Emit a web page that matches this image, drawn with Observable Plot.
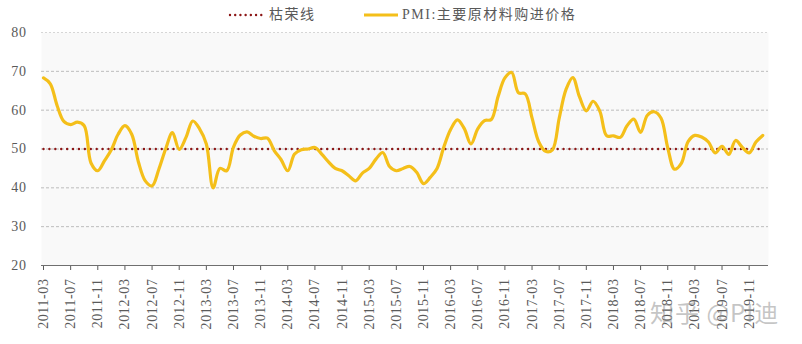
<!DOCTYPE html>
<html><head><meta charset="utf-8">
<script src="https://cdn.jsdelivr.net/npm/d3@7"></script>
<script src="https://cdn.jsdelivr.net/npm/@observablehq/plot@0.6"></script>
<style>
body{margin:0;background:#fff;}
#wrap{position:relative;width:802px;height:344px;overflow:hidden;background:#fff;}
.leg{position:absolute;top:5px;font-family:"Liberation Serif","Noto Sans CJK SC",serif;font-size:14px;color:#595959;letter-spacing:1.5px;line-height:20px;white-space:nowrap;}
.sw{position:absolute;top:10px;}
#wm{position:absolute;left:650px;top:294px;font-family:"Noto Sans CJK SC",sans-serif;font-size:24px;color:rgba(140,140,140,0.5);white-space:nowrap;letter-spacing:1px;}
</style></head><body>
<div id="wrap">
  <div id="chart"></div>
  <svg class="sw" style="left:228px" width="36" height="10"><line x1="2" x2="34" y1="5" y2="5" stroke="#8c1616" stroke-width="2.4" stroke-dasharray="0.01,5.2" stroke-linecap="round"/></svg>
  <div class="leg" style="left:269px">枯荣线</div>
  <svg class="sw" style="left:363px" width="36" height="10"><line x1="1" x2="35" y1="5" y2="5" stroke="#f4bf1a" stroke-width="3"/></svg>
  <div class="leg" style="left:402px">PMI:主要原材料购进价格</div>
  <div id="wm">知乎 @PI迪</div>
</div>
<script>
const months = [
 "2011-03","2011-04","2011-05","2011-06","2011-07","2011-08","2011-09","2011-10","2011-11","2011-12",
 "2012-01","2012-02","2012-03","2012-04","2012-05","2012-06","2012-07","2012-08","2012-09","2012-10","2012-11","2012-12",
 "2013-01","2013-02","2013-03","2013-04","2013-05","2013-06","2013-07","2013-08","2013-09","2013-10","2013-11","2013-12",
 "2014-01","2014-02","2014-03","2014-04","2014-05","2014-06","2014-07","2014-08","2014-09","2014-10","2014-11","2014-12",
 "2015-01","2015-02","2015-03","2015-04","2015-05","2015-06","2015-07","2015-08","2015-09","2015-10","2015-11","2015-12",
 "2016-01","2016-02","2016-03","2016-04","2016-05","2016-06","2016-07","2016-08","2016-09","2016-10","2016-11","2016-12",
 "2017-01","2017-02","2017-03","2017-04","2017-05","2017-06","2017-07","2017-08","2017-09","2017-10","2017-11","2017-12",
 "2018-01","2018-02","2018-03","2018-04","2018-05","2018-06","2018-07","2018-08","2018-09","2018-10","2018-11","2018-12",
 "2019-01","2019-02","2019-03","2019-04","2019-05","2019-06","2019-07","2019-08","2019-09","2019-10","2019-11","2019-12",
 "2020-01"
];
const pmiPurchasePrice = [
 68.3, 66.8, 61.2, 57.1, 56.3, 56.9, 56.0, 46.4, 44.4, 47.0,
 49.8, 53.8, 56.0, 53.8, 46.6, 41.8, 40.5, 44.8, 50.0, 54.2, 49.9, 53.0,
 57.2, 55.2, 51.3, 40.0, 45.0, 44.4, 50.5, 53.6, 54.4, 53.3, 52.7, 52.8,
 49.6, 47.3, 44.4, 48.7, 49.8, 50.0, 50.4, 48.7, 46.7, 45.0, 44.4, 43.1,
 41.8, 43.8, 45.0, 47.4, 49.1, 45.5, 44.4, 45.0, 45.5, 44.0, 41.1, 42.7,
 45.0, 50.5, 55.0, 57.5, 55.3, 51.3, 55.2, 57.3, 57.6, 63.5, 68.3, 69.7,
 64.5, 64.2, 58.0, 51.8, 49.4, 49.8, 57.9, 65.3, 68.4, 63.4, 59.8, 62.3,
 59.7, 53.4, 53.4, 53.0, 56.0, 57.7, 54.3, 58.7, 59.6, 58.0, 50.3, 44.8,
 46.3, 51.9, 53.5, 53.1, 51.8, 49.0, 50.7, 48.6, 52.2, 50.4, 49.0, 51.8,
 53.5
];
const prosperityLine = 50; // 枯荣线
const xTickLabels = ["2011-03","2011-07","2011-11","2012-03","2012-07","2012-11","2013-03","2013-07","2013-11",
 "2014-03","2014-07","2014-11","2015-03","2015-07","2015-11","2016-03","2016-07","2016-11","2017-03","2017-07",
 "2017-11","2018-03","2018-07","2018-11","2019-03","2019-07","2019-11"];
const yTicks = [20, 30, 40, 50, 60, 70, 80];

const data = months.map((m, i) => ({i, month: m, pmi: pmiPurchasePrice[i], line: prosperityLine}));
const tickIdx = xTickLabels.map(l => months.indexOf(l));

const chart = Plot.plot({
  width: 802, height: 344,
  marginLeft: 41, marginRight: 34, marginTop: 32, marginBottom: 79,
  style: {fontFamily: "Liberation Serif, serif", fontSize: "14px", color: "#5a5a5a", background: "transparent", letterSpacing: "0.6px"},
  x: {domain: [-0.295, 106.85], ticks: tickIdx, tickFormat: i => months[i], tickRotate: -90, tickSize: 5, tickPadding: 8, label: null},
  y: {domain: [20, 80], ticks: yTicks, tickSize: 0, tickPadding: 15, label: null},
  marks: [
    Plot.frame({fill: "#f9f9f9", stroke: "none"}),
    Plot.ruleY(yTicks.filter(v => v > 20 && v < 80), {stroke: "#bdbdbd", strokeWidth: 1, strokeDasharray: "3,2"}),
    Plot.ruleY(yTicks.filter(v => v === 80), {stroke: "#d6d6d6", strokeWidth: 1, strokeDasharray: "2,2"}),
    Plot.ruleY([20], {stroke: "#6f6f6f", strokeWidth: 1}),
    Plot.lineY(data, {x: "i", y: "line", stroke: "#8c1616", strokeWidth: 2.4, strokeDasharray: "0.01,5.9", strokeLinecap: "round"}),
    Plot.lineY(data, {x: "i", y: "pmi", stroke: "#f4bf1a", strokeWidth: 3.2, curve: "catmull-rom"})
  ]
});
document.getElementById("chart").appendChild(chart);
</script>
</body></html>
